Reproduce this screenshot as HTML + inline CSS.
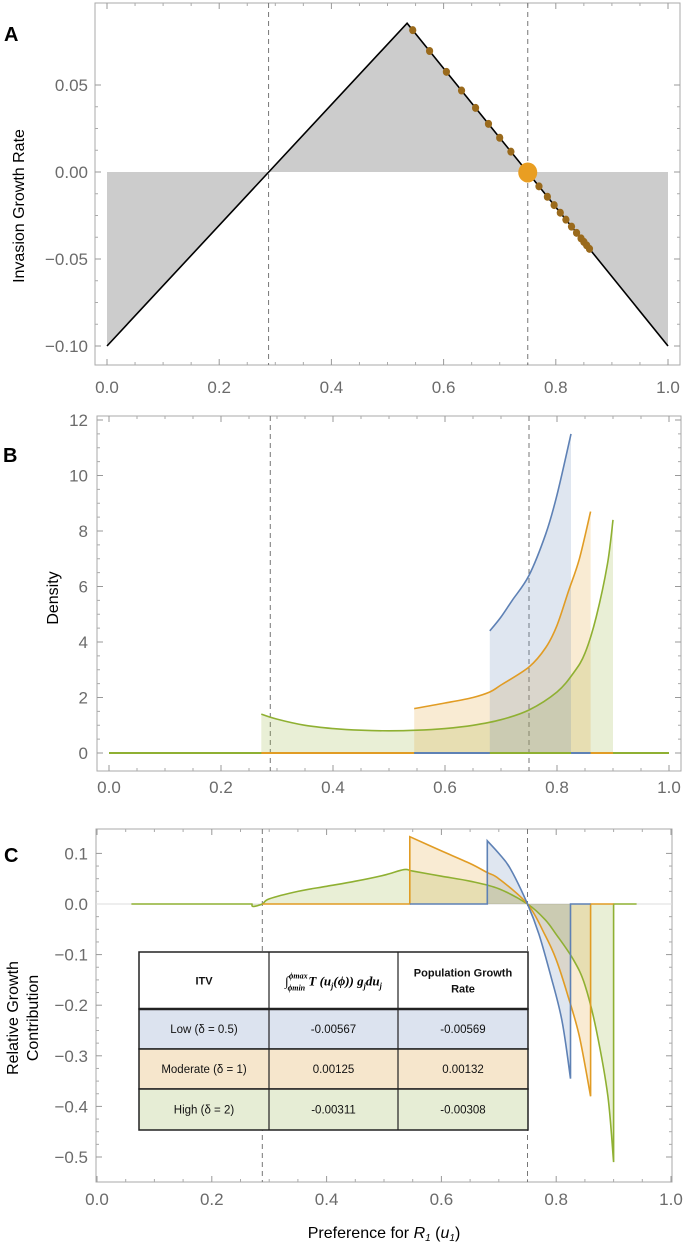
<!DOCTYPE html>
<html><head><meta charset="utf-8"><style>
body{margin:0;background:#fff;width:685px;height:1244px;overflow:hidden;font-family:"Liberation Sans",sans-serif}
svg{position:absolute;left:0;top:0}
.tk{font-size:17px;fill:#6b6b6b}
</style></head><body>
<svg id="s" width="685" height="1244">
<g id="gA"></g>
<g id="gB"></g>
<g id="gC"></g>
</svg>
<script>
// Panel A data
const aLineU=[0,0.535,1];
const aLineV=[-0.1,0.0855,-0.1];
const aDotsU=[0.545,0.575,0.605,0.632,0.657,0.68,0.70,0.72,0.77,0.785,0.797,0.808,0.818,0.828,0.837,0.845,0.85,0.855,0.86];
const aEqU=0.75;
const aYTicks=[0.05,0,-0.05,-0.1];
const aYLabels=["0.05","0.00","\u22120.05","\u22120.10"];
const xTicks=[0,0.2,0.4,0.6,0.8,1];
const xLabels=["0.0","0.2","0.4","0.6","0.8","1.0"];
const dashU=[0.288,0.75];
// Panel B data
const bBlueU=[0.68,0.70,0.72,0.75,0.78,0.80,0.825];
const bBlueV=[4.4,4.9,5.5,6.4,7.9,9.3,11.5];
const bOrangeU=[0.545,0.6,0.65,0.68,0.7,0.75,0.78,0.8,0.82,0.84,0.86];
const bOrangeV=[1.6,1.8,2.0,2.2,2.45,3.1,3.8,4.6,5.8,7.0,8.7];
const bGreenU=[0.272,0.3,0.35,0.4,0.45,0.5,0.55,0.6,0.65,0.7,0.75,0.8,0.83,0.85,0.87,0.89,0.9];
const bGreenV=[1.4,1.22,1.0,0.88,0.82,0.8,0.82,0.88,1.0,1.2,1.55,2.2,2.9,3.6,4.9,6.8,8.4];
const bYTicks=[0,2,4,6,8,10,12];
// Panel C data
const cGreenU=[0.06,0.27,0.272,0.288,0.3,0.35,0.4,0.45,0.5,0.535,0.55,0.6,0.65,0.7,0.75,0.78,0.8,0.83,0.85,0.87,0.89,0.9,0.9,0.94];
const cGreenV=[0,0,-0.005,0,0.01,0.025,0.035,0.045,0.057,0.068,0.065,0.055,0.045,0.03,0,-0.03,-0.06,-0.11,-0.16,-0.25,-0.38,-0.51,0,0];
const cOrangeU=[0.288,0.545,0.545,0.6,0.65,0.68,0.7,0.75,0.78,0.8,0.82,0.84,0.86,0.86,0.9];
const cOrangeV=[0,0,0.133,0.105,0.08,0.062,0.05,0,-0.06,-0.11,-0.18,-0.26,-0.38,0,0];
const cBlueU=[0.545,0.68,0.68,0.7,0.72,0.75,0.77,0.79,0.81,0.825,0.825,0.86];
const cBlueV=[0,0,0.125,0.1,0.07,0,-0.06,-0.14,-0.23,-0.345,0,0];
const cYTicks=[0.1,0,-0.1,-0.2,-0.3,-0.4,-0.5];
const cYLabels=["0.1","0.0","\u22120.1","\u22120.2","\u22120.3","\u22120.4","\u22120.5"];

const NS="http://www.w3.org/2000/svg";
function mk(p,t,at){const e=document.createElementNS(NS,t);for(const k in at)e.setAttribute(k,at[k]);p.appendChild(e);return e;}
function txt(p,x,y,s,cls,anchor){const e=mk(p,'text',{x:x,y:y,'class':cls||'tk','text-anchor':anchor||'middle'});e.textContent=s;return e;}
function frame(g,L,R,T,B,xs,xt,ys,yt){
 const f=mk(g,'rect',{x:L,y:T,width:R-L,height:B-T,fill:'none',stroke:'#aaa','stroke-width':1});
 
 
 for(let i=0;i<xt.length;i++){const x=xs(xt[i]);
  mk(g,'line',{x1:x,x2:x,y1:B,y2:B-6,stroke:'#999'});mk(g,'line',{x1:x,x2:x,y1:T,y2:T+6,stroke:'#999'});
  if(i<xt.length-1)for(let k=1;k<4;k++){const xm=xs(xt[i]+(xt[i+1]-xt[i])*k/4);
   mk(g,'line',{x1:xm,x2:xm,y1:B,y2:B-3,stroke:'#aaa'});mk(g,'line',{x1:xm,x2:xm,y1:T,y2:T+3,stroke:'#aaa'});}}
 for(let i=0;i<yt.length;i++){const y=ys(yt[i]);
  mk(g,'line',{x1:L,x2:L+6,y1:y,y2:y,stroke:'#999'});mk(g,'line',{x1:R,x2:R-6,y1:y,y2:y,stroke:'#999'});
  if(i<yt.length-1)for(let k=1;k<4;k++){const ym=ys(yt[i]+(yt[i+1]-yt[i])*k/4);
   mk(g,'line',{x1:L,x2:L+3,y1:ym,y2:ym,stroke:'#aaa'});mk(g,'line',{x1:R,x2:R-3,y1:ym,y2:ym,stroke:'#aaa'});}}
}
function pts(U,V,xs,ys){return U.map((u,i)=>xs(u).toFixed(1)+','+ys(V[i]).toFixed(1)).join(' ');}
// smooth path (Catmull-Rom), straight segments at jumps (equal u) and flat zero runs
function smooth(U,V,xs,ys){
 const P=U.map((u,i)=>[xs(u),ys(V[i])]);
 // split into runs at jumps
 const runs=[];let cur=[0];
 for(let i=1;i<P.length;i++){
  const jump=Math.abs(U[i]-U[i-1])<1e-9;
  const flat=(V[i]===0&&V[i-1]===0);
  if(jump||flat){runs.push(cur);runs.push(null);cur=[i];} else cur.push(i);
 }
 runs.push(cur);
 let d='M'+P[0][0].toFixed(1)+','+P[0][1].toFixed(1);
 runs.forEach(r=>{
  if(!r)return;
  for(let k=0;k<r.length-1;k++){
   const i1=r[k],i2=r[k+1];
   const i0=k>0?r[k-1]:i1, i3=k+2<r.length?r[k+2]:i2;
   const p0=P[i0],p1=P[i1],p2=P[i2],p3=P[i3];
   const c1=[p1[0]+(p2[0]-p0[0])/6,p1[1]+(p2[1]-p0[1])/6];
   const c2=[p2[0]-(p3[0]-p1[0])/6,p2[1]-(p3[1]-p1[1])/6];
   d+=' L'+p1[0].toFixed(1)+','+p1[1].toFixed(1)+' C'+c1[0].toFixed(1)+','+c1[1].toFixed(1)+' '+c2[0].toFixed(1)+','+c2[1].toFixed(1)+' '+p2[0].toFixed(1)+','+p2[1].toFixed(1);
  }
  const last=r[r.length-1];
  d+=' L'+P[last][0].toFixed(1)+','+P[last][1].toFixed(1);
 });
 return d;
}

// ===== Panel A
(function(){
 const g=document.getElementById('gA');
 const xs=u=>107+561*u, ys=v=>172-1740*v;
 const L=95,R=680,T=3,B=365;
 const fill=mk(g,'polygon',{points:xs(0)+','+ys(0)+' '+pts(aLineU,aLineV,xs,ys)+' '+xs(1)+','+ys(0),fill:'#cccccc'});
 
 
 frame(g,L,R,T,B,xs,xTicks,ys,[-0.1,-0.05,0,0.05]);
 dashU.forEach(u=>{const d=mk(g,'line',{x1:xs(u),x2:xs(u),y1:T,y2:B,stroke:'#777','stroke-dasharray':'5,4'});
  
  });
 const ln=mk(g,'polyline',{points:pts(aLineU,aLineV,xs,ys),fill:'none',stroke:'#000','stroke-width':1.6});
 
 
 const lineV=u=>u<=aLineU[1]?aLineV[0]+(aLineV[1]-aLineV[0])*(u-aLineU[0])/(aLineU[1]-aLineU[0]):aLineV[1]+(aLineV[2]-aLineV[1])*(u-aLineU[1])/(aLineU[2]-aLineU[1]);
 aDotsU.forEach(u=>{const c=mk(g,'ellipse',{cx:xs(u),cy:ys(lineV(u)),rx:3.6,ry:4,fill:'#9a6a1c'});
  
  });
 const eq=mk(g,'ellipse',{cx:xs(aEqU),cy:ys(lineV(aEqU)),rx:9.5,ry:10,fill:'#e99e22'});
 
 
 xTicks.forEach((t,i)=>txt(g,xs(t),393,xLabels[i]));
 aYTicks.forEach((t,i)=>txt(g,88,ys(t)+6,aYLabels[i],'tk','end'));
 const yt=mk(g,'text',{x:0,y:0,'font-size':'16px',fill:'#000','text-anchor':'middle',transform:'translate(24,206) rotate(-90)'});
 yt.textContent='Invasion Growth Rate';
 
 
 const lb=mk(g,'text',{x:4,y:41,'font-size':'20px','font-weight':'bold',fill:'#000'});lb.textContent='A';
 
 
})();

// ===== Panel B
(function(){
 const g=document.getElementById('gB');
 const xs=u=>109+560*u, ys=v=>753-27.75*v;
 const L=97,R=681,T=416,B=771;
 frame(g,L,R,T,B,xs,xTicks,ys,bYTicks);
 dashU.forEach(u=>{const d=mk(g,'line',{x1:xs(u),x2:xs(u),y1:T,y2:B,stroke:'#777','stroke-dasharray':'5,4'});
  
  });
 const series=[[bGreenU,bGreenV,'#8fb032','rgba(143,176,50,0.2)','green'],[bOrangeU,bOrangeV,'#e19c24','rgba(225,156,36,0.2)','orange'],[bBlueU,bBlueV,'#5e81b5','rgba(94,129,181,0.2)','blue']];
 series.forEach(s=>{const U=s[0],V=s[1];
  const d='M'+xs(U[0])+','+ys(0)+' L'+smooth(U,V,xs,ys).slice(1)+' L'+xs(U[U.length-1])+','+ys(0)+' Z';
  const a=mk(g,'path',{d:d,fill:s[3]});
  
  });
 const base=[[0,1,'#8fb032'],[0.272,0.545,'#e19c24'],[0.545,0.68,'#5e81b5'],[0.825,0.86,'#5e81b5'],[0.86,0.9,'#e19c24'],[0.9,1,'#8fb032']];
 base.forEach(b=>{const l=mk(g,'line',{x1:xs(b[0]),x2:xs(b[1]),y1:ys(0),y2:ys(0),stroke:b[2],'stroke-width':2});
  
  });
 series.forEach(s=>{const l=mk(g,'path',{d:smooth(s[0],s[1],xs,ys),fill:'none',stroke:s[2],'stroke-width':1.6});
  
  });
 xTicks.forEach((t,i)=>txt(g,xs(t),793,xLabels[i]));
 bYTicks.forEach(t=>txt(g,88,ys(t)+6,String(t),'tk','end'));
 const yt=mk(g,'text',{x:0,y:0,'font-size':'16px',fill:'#000','text-anchor':'middle',transform:'translate(58,598) rotate(-90)'});
 yt.textContent='Density';
 
 
 const lb=mk(g,'text',{x:3,y:462,'font-size':'20px','font-weight':'bold',fill:'#000'});lb.textContent='B';
 
 
})();

// ===== Panel C
(function(){
 const g=document.getElementById('gC');
 const xs=u=>97+574*u, ys=v=>904-506*v;
 const L=96,R=672,T=829,B=1182;
 frame(g,L,R,T,B,xs,xTicks,ys,[-0.5,-0.4,-0.3,-0.2,-0.1,0,0.1]);
 mk(g,'line',{x1:L,x2:R,y1:ys(0),y2:ys(0),stroke:'#ddd'});
 dashU.forEach(u=>{const d=mk(g,'line',{x1:xs(u),x2:xs(u),y1:T,y2:B,stroke:'#777','stroke-dasharray':'5,4'});
  
  });
 const series=[[cGreenU,cGreenV,'#8fb032','rgba(143,176,50,0.2)','green'],[cOrangeU,cOrangeV,'#e19c24','rgba(225,156,36,0.2)','orange'],[cBlueU,cBlueV,'#5e81b5','rgba(94,129,181,0.2)','blue']];
 series.forEach(s=>{const U=s[0],V=s[1];
  const d='M'+xs(U[0])+','+ys(0)+' L'+smooth(U,V,xs,ys).slice(1)+' L'+xs(U[U.length-1])+','+ys(0)+' Z';
  const a=mk(g,'path',{d:d,fill:s[3]});
  
  });
 series.forEach(s=>{const l=mk(g,'path',{d:smooth(s[0],s[1],xs,ys),fill:'none',stroke:s[2],'stroke-width':1.6});
  
  });
 xTicks.forEach((t,i)=>txt(g,xs(t),1205,xLabels[i]));
 cYTicks.forEach((t,i)=>txt(g,88,ys(t)+6,cYLabels[i],'tk','end'));
 const yt=mk(g,'text',{x:0,y:0,'font-size':'16px',fill:'#000','text-anchor':'middle',transform:'translate(18,1018) rotate(-90)'});
 yt.textContent='Relative Growth';
 
 
 const yt2=mk(g,'text',{x:0,y:0,'font-size':'16px',fill:'#000','text-anchor':'middle',transform:'translate(38,1018) rotate(-90)'});
 yt2.textContent='Contribution';
 
 
 const xt=mk(g,'text',{x:384,y:1238,'font-size':'16px',fill:'#000','text-anchor':'middle'});
 xt.innerHTML='Preference for <tspan font-style="italic">R</tspan><tspan font-style="italic" font-size="10" dy="3">1</tspan><tspan dy="-3"> (</tspan><tspan font-style="italic">u</tspan><tspan font-style="italic" font-size="10" dy="3">1</tspan><tspan dy="-3">)</tspan>';
 
 
 const lb=mk(g,'text',{x:4,y:862,'font-size':'20px','font-weight':'bold',fill:'#000'});lb.textContent='C';
 
 
 // table
 const tx=139,cx=[139,269,398,528],ry=[952,1009,1049,1089,1130];
 const rowFill=['#ffffff','#dce3ef','#f6e6cc','#e6edd5'];
 const cells=[["ITV","","Population Growth|Rate"],["Low (\u03b4 = 0.5)","-0.00567","-0.00569"],["Moderate (\u03b4 = 1)","0.00125","0.00132"],["High (\u03b4 = 2)","-0.00311","-0.00308"]];
 const tbl=mk(g,'g',{});
 
 
 for(let r=0;r<4;r++){
  const rr=mk(tbl,'rect',{x:tx,y:ry[r],width:cx[3]-tx,height:ry[r+1]-ry[r],fill:rowFill[r],stroke:'#222','stroke-width':1.5});
  
  
  for(let c=0;c<3;c++){
   const mx=(cx[c]+cx[c+1])/2,my=(ry[r]+ry[r+1])/2;
   const s=cells[r][c];
   if(r===0&&c===1){
    const t=mk(tbl,'text',{x:mx,y:my+5,'font-size':'13px','text-anchor':'middle','font-family':'Liberation Serif, serif','font-weight':'bold','font-style':'italic'});
    t.innerHTML='<tspan font-style="normal" font-weight="normal">\u222B</tspan><tspan font-size="8" dy="-7">\u03d5max</tspan><tspan font-size="8" dx="-20" dy="12">\u03d5min</tspan><tspan dy="-5"> T (u</tspan><tspan font-size="8" dy="3">j</tspan><tspan dy="-3">(\u03d5)) g</tspan><tspan font-size="8" dy="3">j</tspan><tspan dy="-3">du</tspan><tspan font-size="8" dy="3">j</tspan>';
    
    
    continue;}
   const parts=s.split('|');
   parts.forEach((p,k)=>{const t=mk(tbl,'text',{x:mx,y:my+4+(k-(parts.length-1)/2)*16,'font-size':r===0?'11px':'11.5px','font-weight':r===0?'bold':'normal','text-anchor':'middle',fill:'#111'});
    t.textContent=p;
    
    });
  }
 }
 for(let c=1;c<3;c++)mk(tbl,'line',{x1:cx[c],x2:cx[c],y1:ry[0],y2:ry[4],stroke:'#222','stroke-width':1.2});
 mk(tbl,'line',{x1:tx,x2:cx[3],y1:ry[1],y2:ry[1],stroke:'#222','stroke-width':2.5});
})();
</script>
</body></html>
